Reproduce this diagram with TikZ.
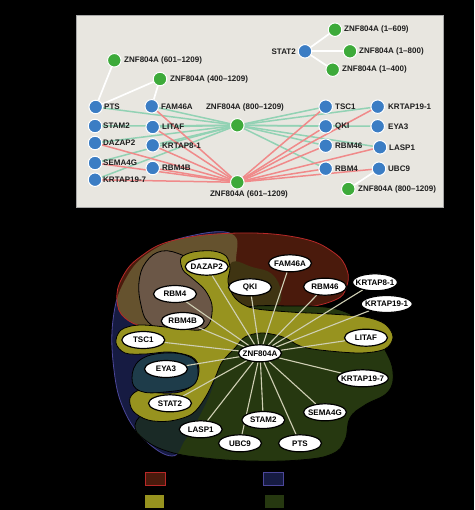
\documentclass[tikz,border=0pt]{standalone}
\usepackage{fontspec}
\setmainfont{Liberation Sans}
\usetikzlibrary{shapes.geometric}
\definecolor{panel}{HTML}{E8E6E0}
\definecolor{panelline}{HTML}{A8A8A8}
\definecolor{tblue}{HTML}{3B7DC4}
\definecolor{tgreen}{HTML}{3DAA3A}
\definecolor{edgegreen}{HTML}{92D2B4}
\definecolor{edgered}{HTML}{F08A8A}
\definecolor{labc}{HTML}{1E1E1E}
\definecolor{bluef}{HTML}{161B42}
\definecolor{blueline}{HTML}{4C479A}
\definecolor{redf}{HTML}{4A1A0C}
\definecolor{redline}{HTML}{B82828}
\definecolor{olivebrown}{HTML}{65522E}
\definecolor{graybrown}{HTML}{6B5747}
\definecolor{qkif}{HTML}{3F3412}
\definecolor{yellowf}{HTML}{97931F}
\definecolor{greenf}{HTML}{263810}
\definecolor{bluegreen}{HTML}{1A2A26}
\definecolor{pocketf}{HTML}{1E3C4A}
\definecolor{spoke}{HTML}{CFCFB4}
\pgfdeclarelayer{blobs}
\pgfdeclarelayer{spokes}
\pgfsetlayers{blobs,spokes,main}
\def\pBlue{plot[smooth cycle,tension=0.7] coordinates {(232,234) (190,236) (150,252) (125,280) (113,320) (114,370) (124,410) (145,440) (172,456) (185,440) (200,415) (215,380) (222,340) (230,300) (236,260)}}
\def\pRed{plot[smooth cycle,tension=0.7] coordinates {(240,233) (300,238) (333,252) (347,270) (346,288) (335,300) (300,308) (250,309) (215,320) (190,330) (150,328) (125,318) (117,300) (122,278) (140,257) (175,240)}}
\def\pGreen{plot[smooth cycle,tension=0.7] coordinates {(240,309) (290,306) (340,310) (370,330) (385,350) (393,372) (388,392) (365,405) (350,418) (345,440) (332,454) (300,460) (250,461) (205,458) (170,452) (145,440) (135,425) (150,410) (185,400) (210,370) (225,330)}}
\def\pGB{plot[smooth cycle,tension=0.7] coordinates {(182,255) (162,251) (146,262) (139,282) (141,305) (148,322) (165,330) (195,331) (212,322) (214,300) (200,278) (190,262)}}
\def\pQKI{plot[smooth cycle,tension=0.7] coordinates {(232,262) (252,267) (272,274) (281,292) (276,306) (250,309) (235,300) (228,282)}}
\def\pYel{plot[smooth cycle,tension=0.55] coordinates {(181,258) (193,252) (213,251) (226,256) (230,268) (228,282) (235,298) (252,308) (290,312) (330,314) (365,317) (385,324) (393,337) (385,349) (360,353) (320,350) (300,346) (283,337) (262,333) (245,337) (235,348) (222,362) (215,378) (205,398) (192,414) (170,421) (148,420) (133,411) (130,398) (140,390) (160,393) (180,392) (195,383) (199,368) (192,357) (170,352) (145,354) (125,353) (116,343) (121,330) (140,325) (175,328) (200,330) (210,322) (212,305) (205,290) (192,278) (183,270)}}
\def\pPocket{plot[smooth cycle,tension=0.7] coordinates {(132,378) (140,360) (165,353) (190,357) (198,370) (192,386) (165,392) (140,391)}}
\begin{document}
\begin{tikzpicture}[x=1pt,y=-1pt,
  bn/.style={circle,fill=tblue,draw=white,line width=1pt,minimum size=13.5pt,inner sep=0pt},
  gn/.style={circle,fill=tgreen,draw=white,line width=1pt,minimum size=13.5pt,inner sep=0pt},
  tl/.style={font=\bfseries\fontsize{8}{9}\selectfont,text=labc,inner sep=0pt},
  ge/.style={draw=edgegreen,line width=1.5pt},
  re/.style={draw=edgered,line width=1.5pt},
  we/.style={draw=white,line width=1.7pt},
  en/.style={ellipse,draw=black,line width=1.2pt,fill=white,inner xsep=-3.4pt,inner ysep=0pt,minimum width=43pt,minimum height=17pt,font=\bfseries\fontsize{8}{9}\selectfont},
  sp/.style={draw=spoke,line width=1.1pt},
  lgbox/.style={line width=0.8pt}
]
\useasboundingbox (0,0) rectangle (474,510);
\begin{pgfonlayer}{blobs}
\fill[black] (0,0) rectangle (474,510);
\fill[panel,draw=panelline,line width=0.6pt] (76,15) rectangle (443,207);
% bottom regions
\fill[bluef] \pBlue;
\draw[blueline,line width=0.8pt] \pBlue;
\fill[redf] \pRed;
\begin{scope}\clip \pBlue; \fill[olivebrown] \pRed; \end{scope}
\fill[qkif] \pQKI;
\draw[redline,line width=0.8pt] \pRed;
\fill[greenf] \pGreen;
\begin{scope}\clip \pBlue; \fill[bluegreen] \pGreen; \end{scope}
\draw[black,line width=0.8pt] \pGreen;
\filldraw[fill=graybrown,draw=black,line width=0.8pt] \pGB;
\filldraw[fill=yellowf,draw=black,line width=0.8pt] \pYel;
\filldraw[fill=pocketf,draw=black,line width=0.8pt] \pPocket;
% legend boxes
\filldraw[lgbox,fill=redf,draw=redline] (145,472) rectangle (165,485);
\filldraw[lgbox,fill=bluef,draw=blueline] (263,472) rectangle (283,485);
\filldraw[lgbox,fill=yellowf,draw=yellowf] (145,495) rectangle (163,507);
\filldraw[lgbox,fill=greenf,draw=greenf] (265,495) rectangle (283,507);
\end{pgfonlayer}

% ---------- top panel nodes ----------
\node[gn] (g1) at (335,29.7) {};
\node[bn] (tSTAT2) at (305,51.3) {};
\node[gn] (g2) at (350,51.3) {};
\node[gn] (g3) at (332.7,69.7) {};
\node[gn] (g4) at (114.3,60.3) {};
\node[gn] (g5) at (160,79) {};
\node[bn] (tPTS) at (95.7,107) {};
\node[bn] (tFAM46A) at (151.7,106.3) {};
\node[gn] (gc) at (237.3,125.3) {};
\node[bn] (tSTAM2) at (95,126) {};
\node[bn] (tLITAF) at (152.7,127) {};
\node[bn] (tDAZAP2) at (95,143) {};
\node[bn] (tKRTAP81) at (152.7,145.3) {};
\node[bn] (tSEMA4G) at (95,163) {};
\node[bn] (tRBM4B) at (152.7,168) {};
\node[bn] (tKRTAP197) at (95,179.7) {};
\node[gn] (gb) at (237.3,182.3) {};
\node[bn] (tTSC1) at (325.7,106.7) {};
\node[bn] (tKRTAP191) at (377.7,106.7) {};
\node[bn] (tQKI) at (325.7,126.3) {};
\node[bn] (tEYA3) at (377.7,126.3) {};
\node[bn] (tRBM46) at (325.7,145.7) {};
\node[bn] (tLASP1) at (380,147.3) {};
\node[bn] (tRBM4) at (325.7,168.7) {};
\node[bn] (tUBC9) at (379,168.7) {};
\node[gn] (g6) at (348.3,189) {};
% labels
\node[tl,anchor=west] (lg1) at (344,29.7) {ZNF804A (1–609)};
\node[tl,anchor=east] (lSTAT2) at (296,51.3) {STAT2};
\node[tl,anchor=west] (lg2) at (359,51.3) {ZNF804A (1–800)};
\node[tl,anchor=west] (lg3) at (342,69.7) {ZNF804A (1–400)};
\node[tl,anchor=west] (lg4) at (124,60.3) {ZNF804A (601–1209)};
\node[tl,anchor=west] (lg5) at (170,79) {ZNF804A (400–1209)};
\node[tl,anchor=west] (lPTS) at (104,107) {PTS};
\node[tl,anchor=west] (lFAM46A) at (161,106.3) {FAM46A};
\node[tl] (lgc) at (245,107.3) {ZNF804A (800–1209)};
\node[tl,anchor=west] (lSTAM2) at (103,126) {STAM2};
\node[tl,anchor=west] (lLITAF) at (162,127) {LITAF};
\node[tl,anchor=west] (lDAZAP2) at (103,143) {DAZAP2};
\node[tl,anchor=west] (lKRTAP81) at (162,145.3) {KRTAP8-1};
\node[tl,anchor=west] (lSEMA4G) at (103,163) {SEMA4G};
\node[tl,anchor=west] (lRBM4B) at (162,168) {RBM4B};
\node[tl,anchor=west] (lKRTAP197) at (103,179.7) {KRTAP19-7};
\node[tl] (lgb) at (249,194) {ZNF804A (601–1209)};
\node[tl,anchor=west] (lTSC1) at (335,106.7) {TSC1};
\node[tl,anchor=west] (lKRTAP191) at (388,106.7) {KRTAP19-1};
\node[tl,anchor=west] (lQKI) at (335,126.3) {QKI};
\node[tl,anchor=west] (lEYA3) at (388,126.3) {EYA3};
\node[tl,anchor=west] (lRBM46) at (335,145.7) {RBM46};
\node[tl,anchor=west] (lLASP1) at (389,147.3) {LASP1};
\node[tl,anchor=west] (lRBM4) at (335,168.7) {RBM4};
\node[tl,anchor=west] (lUBC9) at (388,168.7) {UBC9};
\node[tl,anchor=west] (lg6) at (358,189) {ZNF804A (800–1209)};

% ---------- bottom nodes ----------
\node[en] (bDAZAP2) at (206.7,266.7) {DAZAP2};
\node[en] (bFAM46A) at (290,263.3) {FAM46A};
\node[en] (bQKI) at (250,287.3) {QKI};
\node[en] (bRBM46) at (325,286.7) {RBM46};
\node[en] (bKRTAP81) at (375,282.3) {KRTAP8-1};
\node[en] (bRBM4) at (175,294) {RBM4};
\node[en] (bKRTAP191) at (386.7,304) {KRTAP19-1};
\node[en] (bRBM4B) at (182.7,321) {RBM4B};
\node[en] (bTSC1) at (143.3,340) {TSC1};
\node[en] (bLITAF) at (366,337.7) {LITAF};
\node[en] (bZNF) at (260,353.3) {ZNF804A};
\node[en] (bEYA3) at (166,369) {EYA3};
\node[en] (bKRTAP197) at (362.7,378.3) {KRTAP19-7};
\node[en] (bSTAT2) at (170,403.3) {STAT2};
\node[en] (bSEMA4G) at (325,412.3) {SEMA4G};
\node[en] (bSTAM2) at (263.3,420) {STAM2};
\node[en] (bLASP1) at (200.7,429.3) {LASP1};
\node[en] (bUBC9) at (240,443.3) {UBC9};
\node[en] (bPTS) at (300,443.3) {PTS};

\begin{pgfonlayer}{spokes}
% top panel edges
\foreach \n in {tPTS,tFAM46A,tSTAM2,tLITAF,tDAZAP2,tKRTAP81,tSEMA4G,tKRTAP197,tTSC1,tKRTAP191,tQKI,tEYA3,tRBM46,tLASP1,tRBM4}
  \draw[ge] (gc) -- (\n);
\foreach \n in {tFAM46A,tLITAF,tDAZAP2,tKRTAP81,tSEMA4G,tKRTAP197,tRBM4B,tKRTAP191,tQKI,tTSC1,tRBM46,tLASP1,tRBM4,tUBC9}
  \draw[re] (gb) -- (\n);
\draw[we] (tSTAT2) -- (g1);
\draw[we] (tSTAT2) -- (g2);
\draw[we] (tSTAT2) -- (g3);
\draw[we] (g4) -- (tPTS);
\draw[we] (g5) -- (tPTS);
\draw[we] (g5) -- (tFAM46A);
\draw[we] (tUBC9) -- (g6);
% bottom spokes
\foreach \n in {bDAZAP2,bFAM46A,bQKI,bRBM46,bKRTAP81,bRBM4,bKRTAP191,bRBM4B,bTSC1,bLITAF,bEYA3,bKRTAP197,bSTAT2,bSEMA4G,bSTAM2,bLASP1,bUBC9,bPTS}
  \draw[sp] (bZNF) -- (\n);
\end{pgfonlayer}
\end{tikzpicture}
\end{document}
